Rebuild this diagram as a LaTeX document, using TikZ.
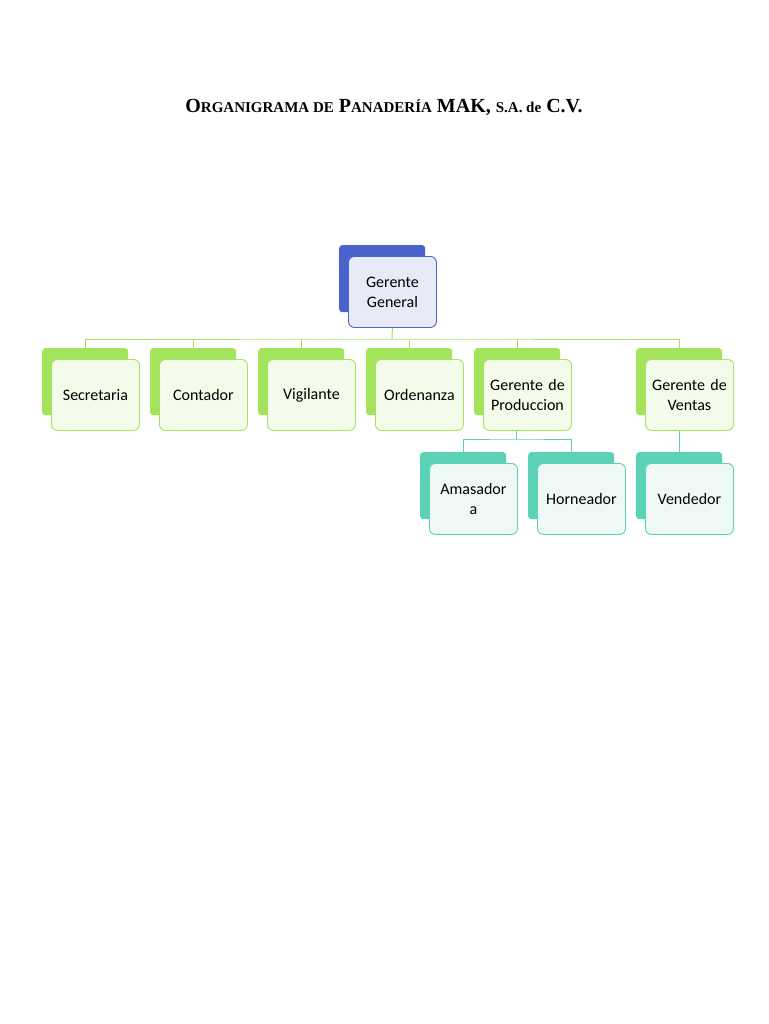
\documentclass[tikz,border=0pt]{standalone}
\usepackage{fontspec}
\setmainfont{Carlito}
\newfontfamily\titlefont{Liberation Serif}
\definecolor{gblue}{HTML}{4A62CC}
\definecolor{gbluel}{HTML}{E8EAF8}
\definecolor{ggreen}{HTML}{A4E35C}
\definecolor{ggreenl}{HTML}{F3FBEA}
\definecolor{gteal}{HTML}{5CD2B4}
\definecolor{gteall}{HTML}{EEF9F5}
\newcommand{\sm}[1]{{\fontsize{15}{18}\selectfont #1}}
\tikzset{
 backbox/.style={rounded corners=3pt,minimum width=86pt,minimum height=67pt,anchor=north west,inner sep=0},
 frontbox/.style={rounded corners=6pt,draw,line width=0.9pt,minimum width=88pt,minimum height=71pt,anchor=north west,align=center,font=\fontsize{16}{20}\selectfont,inner sep=0,text width=82pt},
 conn/.style={line width=1pt}
}
\begin{document}
\begin{tikzpicture}[x=1pt,y=-1pt]
\useasboundingbox (0,0) rectangle (768,1024);
\node (title) at (384,107) {\titlefont\bfseries\fontsize{20}{24}\selectfont O\sm{RGANIGRAMA DE} P\sm{ANADERÍA} MAK, \sm{S.A. de} C.V.};
% Gerente General
\node[backbox,fill=gblue] (ggb) at (339,245) {};
\node[frontbox,draw=gblue,fill=gbluel] (gg) at (348,256) {Gerente\\General};
% level 1
\foreach \n/\x/\t in {s/42/Secretaria,c/150/Contador,v/258/Vigilante,o/366/Ordenanza,p/474/{Gerente de\\Produccion},ve/636/{Gerente de\\Ventas}}{
 \node[backbox,fill=ggreen] (\n b) at (\x,348) {};
 \node[frontbox,draw=ggreen,fill=ggreenl] (\n) at (\x+9,359) {\t};
}
\coordinate (bus) at (392,339);
\draw[conn,draw=ggreen] (gg.south) -- (bus);
\draw[conn,draw=ggreen] (sb.north) |- (bus) -| (veb.north);
\foreach \n in {cb,vb,ob,pb}{\draw[conn,draw=ggreen] (\n.north) -- (\n.north |- bus);}
% level 2
\foreach \n/\x/\t in {am/420/{Amasador\\a},ho/528/Horneador,vd/636/Vendedor}{
 \node[backbox,fill=gteal] (\n b) at (\x,452) {};
 \node[frontbox,draw=gteal,fill=gteall] (\n) at (\x+9,463) {\t};
}
\coordinate (bus2) at (516,439);
\draw[conn,draw=gteal] (p.south -| bus2) -- (bus2);
\draw[conn,draw=gteal] (amb.north) |- (bus2) -| (hob.north);
\draw[conn,draw=gteal] (ve.south -| vdb.north) -- (vdb.north);
\end{tikzpicture}
\end{document}
